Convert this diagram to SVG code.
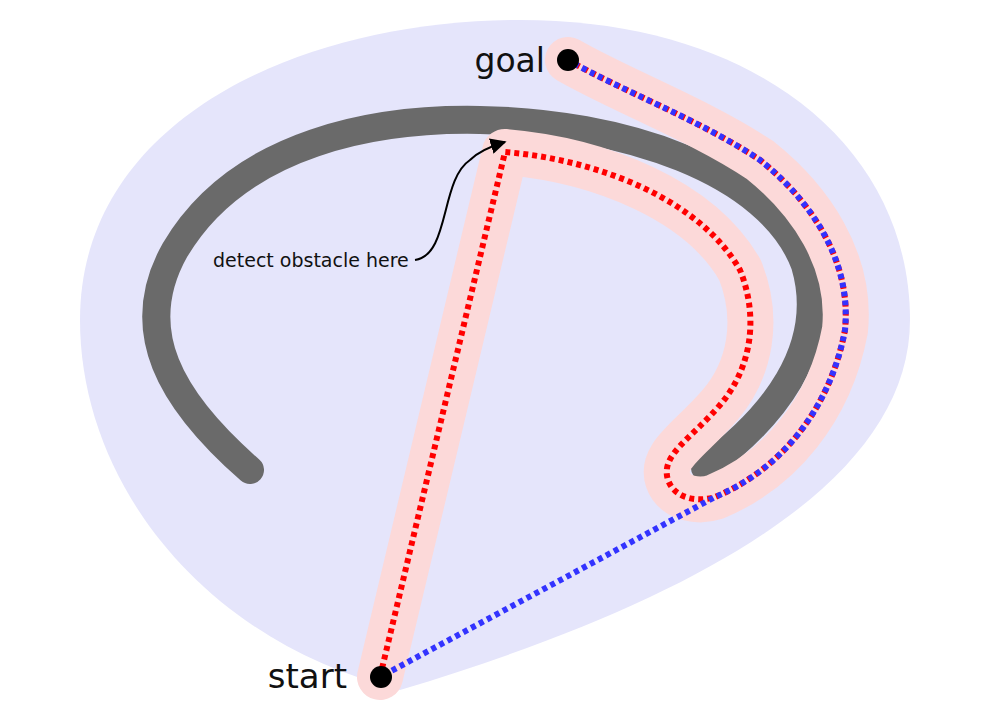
<svg xmlns="http://www.w3.org/2000/svg" width="1000" height="706" viewBox="0 0 1000 706">
<defs>
<style>
.lbl{font-family:"DejaVu Sans",sans-serif;fill:#111}
.dot{fill:none;stroke-width:6;stroke-dasharray:5 4}
</style>
<marker id="ah" viewBox="0 0 10 10" refX="9" refY="5" markerWidth="8" markerHeight="8" orient="auto"><path d="M0,0 L10,5 L0,10 Z" fill="#000"/></marker>
</defs>
<rect width="1000" height="706" fill="#fff"/>
<g id="region"><path d="M400,690 C200,640 80,480 80,320 C80,120 300,20 520,20 C760,20 910,150 910,320 C910,480 700,600 400,690 Z" fill="#e5e5fb"/></g>
<g id="obstacle"><path d="M250,470 C170,400 130,330 175,250 C240,140 380,118 480,120 C620,122 770,170 805,265 C830,350 770,420 705,468" fill="none" stroke="#6a6a6a" stroke-width="28" stroke-linecap="round"/></g>
<g id="connectors">
<path id="halo" d="M380,677 L505,152 C600,160 700,200 740,270 C760,320 750,370 720,405 C690,440 660,455 668,480 C675,500 700,502 715,497 C780,470 830,410 845,330 C852,260 810,200 760,160 C700,120 620,90 568,60" fill="none" stroke="#fcd9d9" stroke-width="46" stroke-linecap="round" stroke-linejoin="round"/>
<path class="dot" d="M380,677 L505,152 C600,160 700,200 740,270 C760,320 750,370 720,405 C690,440 660,455 668,480 C675,500 700,502 715,497 C780,470 830,410 845,330 C852,260 810,200 760,160 C700,120 620,90 568,60" stroke="#ff0000"/>
<path class="dot" d="M380,677 L715,497 C780,470 830,410 845,330 C852,260 810,200 760,160 C700,120 620,90 568,60" stroke="#3333ff" stroke-dashoffset="4.5"/>
<path d="M415,260 C450,255 440,180 470,160 C480,150 495,145 505,142" fill="none" stroke="#000" stroke-width="2" marker-end="url(#ah)"/>
</g>
<g id="start"><circle cx="381" cy="677" r="11" fill="#000"/><text class="lbl" x="347" y="688" font-size="34" text-anchor="end">start</text></g>
<g id="goal"><circle cx="568" cy="60" r="11" fill="#000"/><text class="lbl" x="545" y="72" font-size="33" text-anchor="end">goal</text></g>
<g id="note"><text class="lbl" x="213" y="267" font-size="19" fill="#333">detect obstacle here</text></g>
</svg>
